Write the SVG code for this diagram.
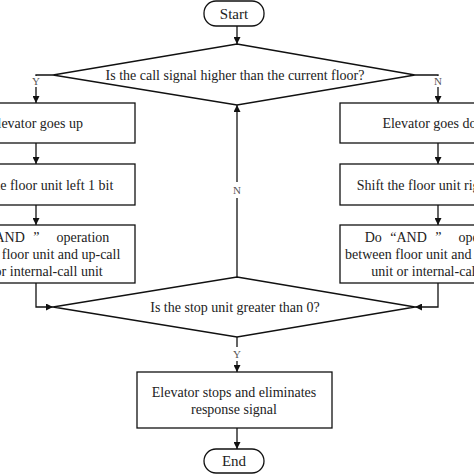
<svg xmlns="http://www.w3.org/2000/svg" width="474" height="474" viewBox="0 0 474 474">
<defs>
<marker id="ah" viewBox="0 0 10 10" refX="10" refY="5" markerWidth="7" markerHeight="7" orient="auto" markerUnits="userSpaceOnUse"><path d="M0,0 L10,5 L0,10 z" fill="#111"/></marker>
</defs>
<style>
.s{fill:#fff;stroke:#111;stroke-width:1.3}
.l{fill:none;stroke:#111;stroke-width:1.3}
text{font-family:"Liberation Serif","Times New Roman",serif;font-size:14px;fill:#222;text-anchor:middle}
.yn{font-size:11px;fill:#555}
.w{word-spacing:5px}
</style>
<rect width="474" height="474" fill="#fff"/>
<g id="connectors">
<line class="l" x1="237" y1="26" x2="237" y2="44" marker-end="url(#ah)"/>
<polyline class="l" points="53,75 36,75 36,103" marker-end="url(#ah)"/>
<polyline class="l" points="415,75 438,75 438,103" marker-end="url(#ah)"/>
<rect x="31" y="76" width="10" height="11" fill="#fff"/>
<text class="yn" x="36" y="85">Y</text>
<rect x="433" y="76" width="10" height="11" fill="#fff"/>
<text class="yn" x="438" y="85">N</text>
<line class="l" x1="36" y1="143" x2="36" y2="164" marker-end="url(#ah)"/>
<line class="l" x1="36" y1="205" x2="36" y2="225" marker-end="url(#ah)"/>
<line class="l" x1="438" y1="143" x2="438" y2="164" marker-end="url(#ah)"/>
<line class="l" x1="438" y1="205" x2="438" y2="225" marker-end="url(#ah)"/>
<polyline class="l" points="36,283 36,307 53,307" marker-end="url(#ah)"/>
<polyline class="l" points="438,283 438,307 415,307" marker-end="url(#ah)"/>
<line class="l" x1="237" y1="277" x2="237" y2="105" marker-end="url(#ah)"/>
<rect x="231" y="182" width="12" height="16" fill="#fff"/>
<text class="yn" x="237" y="194">N</text>
<line class="l" x1="237" y1="337" x2="237" y2="372" marker-end="url(#ah)"/>
<rect x="231" y="347" width="12" height="14" fill="#fff"/>
<text class="yn" x="237" y="358">Y</text>
<line class="l" x1="237" y1="428" x2="237" y2="449" marker-end="url(#ah)"/>
</g>
<g id="start"><rect class="s" x="204" y="1" width="60" height="25" rx="12"/><text x="234" y="19" style="font-size:15px">Start</text></g>
<g id="d1"><polygon class="s" points="237,44 415,75 237,105 53,75"/><text x="235" y="80">Is the call signal higher than the current floor?</text></g>
<g id="up1"><rect class="s" x="-63" y="103" width="198" height="40"/><text x="36" y="128">Elevator goes up</text></g>
<g id="up2"><rect class="s" x="-63" y="164" width="198" height="41"/><text x="36" y="190">Shift the floor unit left 1 bit</text></g>
<g id="up3"><rect class="s" x="-63" y="225" width="198" height="58"/><text class="w" x="36" y="242" xml:space="preserve">Do “AND ”  operation</text><text x="36" y="259">between floor unit and up-call</text><text x="36" y="276">unit or internal-call unit</text></g>
<g id="dn1"><rect class="s" x="340" y="103" width="198" height="40"/><text x="438" y="128">Elevator goes down</text></g>
<g id="dn2"><rect class="s" x="340" y="164" width="198" height="41"/><text x="438" y="190">Shift the floor unit right 1 bit</text></g>
<g id="dn3"><rect class="s" x="340" y="225" width="198" height="58"/><text class="w" x="438" y="242" xml:space="preserve">Do “AND ”  operation</text><text x="438" y="259">between floor unit and down-call</text><text x="438" y="276">unit or internal-call unit</text></g>
<g id="d2"><polygon class="s" points="237,277 415,307 237,337 53,307"/><text x="235" y="312">Is the stop unit greater than 0?</text></g>
<g id="stop"><rect class="s" x="137" y="372" width="195" height="56"/><text x="234" y="397">Elevator stops and eliminates</text><text x="234" y="414">response signal</text></g>
<g id="end"><rect class="s" x="204" y="449" width="60" height="24" rx="12"/><text x="234" y="466" style="font-size:15px">End</text></g>
</svg>
